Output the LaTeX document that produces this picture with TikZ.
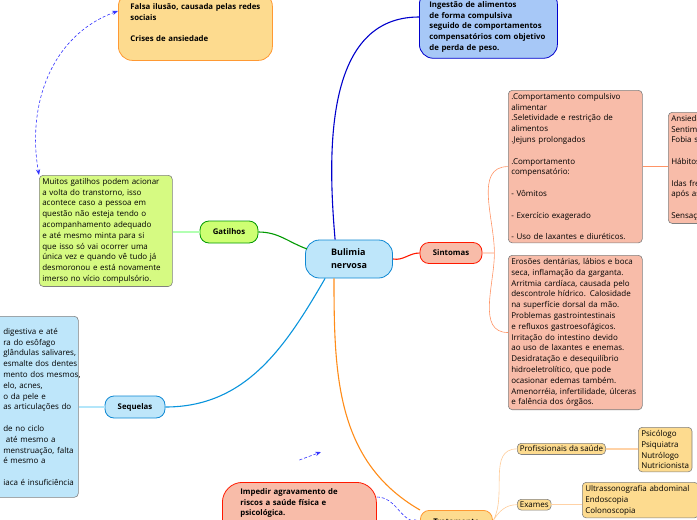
\documentclass[tikz,border=0pt]{standalone}
\usepackage{fontspec}
\setmainfont{Open Sans}
\usetikzlibrary{arrows.meta, positioning}
\definecolor{cblue}{HTML}{BEE6FA}
\definecolor{cdblue}{HTML}{A7C8F7}
\definecolor{cyel}{HTML}{FDDB8F}
\definecolor{cgreen}{HTML}{D6FA82}
\definecolor{cred}{HTML}{F8BCA9}
\newcommand\gap{\\[10.8pt]}
\newcommand\cut{\hspace*{100pt}}
\newcommand\nohy{\hyphenpenalty=10000\relax}
\begin{document}
\begin{tikzpicture}[x=1pt, y=-1pt,
    font=\fontsize{8}{10.8}\selectfont\nohy,
    MN/.style args = {#1/#2}{
                    draw=#1,% line color
                    fill=#2,
                    rounded corners=8pt, thick,
                    inner sep=3pt, align=center},
    BX/.style args = {#1/#2}{
                    draw=#1, fill=#2,
                    rounded corners=4pt, semithick,
                    inner sep=3pt, align=left, anchor=north west},
    line/.style = {line width=1.1pt, draw=#1},
    link/.style = {draw=blue!80, densely dashed, semithick,
                    -{Stealth[length=2mm]}}]
%---
\useasboundingbox (0,0) rectangle (697,520);
\clip (0,0) rectangle (697,520);
% centre
\node (bn) [MN=cyan!70!blue/cblue, minimum width=87pt, minimum height=38pt,
            rounded corners=14pt, align=left, font=\fontsize{9}{13}\selectfont\bfseries]
            at (349,259) {Bulimia\\nervosa};
% top
\node (def) [BX=blue!80!black/cdblue, rounded corners=14pt, thick, text width=118pt,
            font=\fontsize{7.8}{10.8}\selectfont\bfseries\nohy, inner sep=6pt, inner xsep=10pt] at (419,-10)
            {\mbox{}\\Ingestão de alimentos de forma compulsiva seguido de comportamentos compensatórios com objetivo de perda de peso.};
\node (ilu) [BX=orange!80/cyel, rounded corners=14pt, thick, text width=130pt,
            font=\fontsize{7.8}{10.8}\selectfont\bfseries\nohy, inner sep=6pt, inner xsep=12pt] at (118,-8)
            {\mbox{}\\Falsa ilusão, causada pelas redes sociais\gap Crises de ansiedade\\[2pt]\mbox{}};
% left
\node (gat) [MN=green!60!black/green!35!yellow!55, minimum width=58pt, minimum height=22pt,
            rounded corners=9pt, font=\fontsize{7.8}{10}\selectfont\bfseries] at (229,232) {Gatilhos};
\node (gtx) [BX=gray/cgreen, text width=127pt] at (39,175)
            {Muitos gatilhos podem acionar a volta do transtorno, isso acontece caso a pessoa em questão não esteja tendo o acompanhamento adequado e até mesmo minta para si que isso só vai ocorrer uma única vez e quando vê tudo já desmoronou e está novamente imerso no vício compulsório.};
\node (seq) [MN=cyan!70!blue/cblue, minimum width=60pt, minimum height=22pt,
            rounded corners=9pt, font=\fontsize{7.8}{10}\selectfont\bfseries] at (135,407) {Sequelas};
\node (stx) [BX=gray/cblue, text width=172pt, minimum height=181pt, inner ysep=5pt] at (-100,316)
            {\cut\rlap{digestiva e até}\\\cut\rlap{ra do esôfago}\\\cut\rlap{glândulas salivares,}\\\cut\rlap{esmalte dos dentes}\\\cut\rlap{mento dos mesmos,}\\\cut\rlap{elo, acnes,}\\\cut\rlap{o da pele e}\\\cut\rlap{as articulações do}\gap\cut\rlap{de no ciclo}\\\cut\rlap{\ até mesmo a}\\\cut\rlap{menstruação, falta}\\\cut\rlap{é mesmo a}\gap\cut\rlap{iaca é insuficiência}};
% right
\node (sin) [MN=red!80!orange/cred, minimum width=62pt, minimum height=21pt,
            rounded corners=9pt, font=\fontsize{7.8}{10}\selectfont\bfseries] at (451,253) {Sintomas};
\node (s1) [BX=gray/cred, text width=128pt] at (508,90)
            {.Comportamento compulsivo alimentar\\.Seletividade e restrição de alimentos\\.Jejuns prolongados\gap.Comportamento\\compensatório:\gap- Vômitos\gap- Exercício exagerado\gap- Uso de laxantes e diuréticos.};
\node (s2) [BX=gray/cred, text width=128pt] at (508,255)
            {Erosões dentárias, lábios e boca seca, inflamação da garganta. Arritmia cardíaca, causada pelo descontrole hídrico. Calosidade na superfície dorsal da mão. Problemas gastrointestinais e refluxos gastroesofágicos. Irritação do intestino devido ao uso de laxantes e enemas. Desidratação e desequilíbrio hidroeletrolítico, que pode ocasionar edemas também. Amenorréia, infertilidade, úlceras e falência dos órgãos.};
\node (s3) [BX=gray/cred, text width=80pt] at (668,112)
            {Ansiedade\\Sentimento\\Fobia social\gap Hábitos\gap Idas frequentes\\após as\gap Sensação};
% bottom
\node (tra) [MN=orange!80/cyel, minimum width=72pt, minimum height=22pt,
            rounded corners=9pt, font=\fontsize{7.8}{10}\selectfont\bfseries, anchor=north west] at (420,510) {Tratamento};
\node (imp) [BX=red!80!orange/cred, rounded corners=20pt, thick, text width=118pt,
            font=\fontsize{7.8}{10.8}\selectfont\bfseries\nohy, inner sep=6pt, inner xsep=18pt] at (222,482)
            {Impedir agravamento de riscos a saúde física e psicológica.\\[14pt]\mbox{}};
\node (pro) [BX=gray/cyel, inner sep=2.5pt] at (517,443) {Profissionais da saúde};
\node (ptx) [BX=gray/cyel] at (638,427) {Psicólogo\\Psiquiatra\\Nutrólogo\\Nutricionista};
\node (exa) [BX=gray/cyel, inner sep=2.5pt] at (517,499) {Exames};
\node (etx) [BX=gray/cyel, text width=110pt] at (582,482) {Ultrassonografia abdominal\\Endoscopia\\Colonoscopia};
\coordinate (up) at (321,452);
% lines
\draw[line=blue!80!black]   (bn.north west) ++(30,0) to[out=95,in=180] (def.west |- 0,17);
\draw[line=green!60!black]  (bn.west) ++(2,-10) to[out=160,in=0] (gat.east);
\draw[line=red!80!orange]   (bn.east) to[out=-10,in=180] (sin.west);
\draw[line=cyan!80!blue]    (bn.south west) ++(20,0) to[out=-120,in=0] (seq.east);
\draw[line=orange!90]       (bn.south) ++(-15,0) to[out=-90,in=150] (tra.north west);
\draw[line=green!30, line width=1.5pt] (gat.west) -- (gtx.east |- gat.west);
\draw[line=cyan!30, line width=1.5pt]  (seq.west) -- (stx.east |- seq.west);
\draw[red!40!orange!60, semithick] (sin.east) -- ++(12,0) coordinate (sj)
        to[out=90,in=180] (s1.west) (sj) to[out=-90,in=180] (s2.west);
\draw[red!40!orange!60, semithick] (s1.east) -- (s3.west |- s1.east);
\draw[orange!40, semithick] (tra.east) to[out=60,in=180] (pro.west)
        (tra.east) to[out=60,in=180] (exa.west);
\draw[orange!35, line width=1.5pt] (pro.east) -- (ptx.west |- pro.east)
        (exa.east) -- (etx.west |- exa.east);
\draw[link, {Stealth[length=2mm]}-{Stealth[length=2mm]}]
        (ilu.west |- 0,11) to[out=200,in=100] (gtx.north west);
\draw[link] (imp.east |- 0,497) to[out=0,in=180] (tra.west);
\draw[link] (imp.north) ++(0,-22) -- (up);
\end{tikzpicture}
\end{document}
